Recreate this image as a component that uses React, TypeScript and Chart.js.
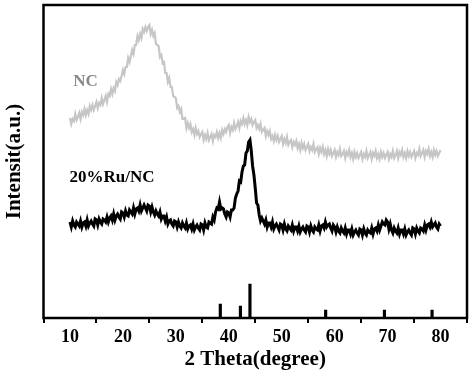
import React, { useEffect, useRef } from "react";
import { Chart, registerables } from "chart.js";

Chart.register(...registerables);

// 2θ sampling grid: 10° to 80° every 0.25°
const scanStart = 10;
const scanStep = 0.25;

// NC (grey) intensity, a.u.
const ncIntensity = [
  200, 194, 199, 197, 204, 198, 201, 205, 199, 206, 203, 209, 203, 208, 204, 212, 208, 213, 208, 212,
  216, 210, 215, 213, 220, 214, 218, 222, 216, 224, 222, 229, 224, 230, 227, 236, 233, 239, 237, 242,
  248, 244, 251, 251, 260, 256, 262, 268, 264, 273, 273, 282, 278, 284, 280, 289, 286, 291, 287, 291,
  293, 284, 288, 282, 285, 274, 273, 272, 261, 263, 255, 256, 245, 245, 236, 240, 231, 231, 222, 221,
  220, 210, 212, 206, 209, 199, 199, 200, 190, 195, 190, 194, 186, 189, 183, 190, 184, 187, 181, 184,
  186, 178, 183, 179, 185, 178, 181, 184, 177, 183, 181, 186, 180, 185, 180, 188, 184, 189, 186, 191,
  193, 185, 191, 188, 195, 189, 192, 196, 190, 197, 194, 200, 194, 198, 193, 201, 196, 199, 193, 196,
  198, 190, 193, 189, 194, 186, 188, 190, 182, 187, 183, 187, 179, 182, 177, 183, 178, 182, 176, 179,
  182, 174, 179, 175, 181, 173, 176, 178, 171, 176, 173, 177, 170, 174, 168, 175, 170, 174, 168, 171,
  174, 167, 171, 168, 174, 166, 169, 171, 164, 170, 166, 171, 164, 168, 162, 169, 164, 168, 162, 165,
  168, 161, 166, 163, 169, 162, 164, 167, 160, 166, 163, 168, 161, 165, 159, 166, 161, 165, 160, 163,
  166, 159, 164, 161, 167, 160, 163, 166, 159, 165, 162, 167, 160, 164, 159, 166, 161, 165, 160, 163,
  166, 159, 164, 161, 167, 160, 163, 167, 160, 166, 163, 168, 161, 165, 160, 167, 162, 166, 161, 164,
  167, 160, 165, 163, 169, 162, 165, 168, 161, 167, 164, 169, 162, 166, 161, 168, 163, 167, 162, 165,
  168,
];

// 20%Ru/NC (black) intensity, a.u.
const ruNcIntensity = [
  96, 91, 97, 93, 91, 96, 94, 92, 97, 91, 95, 96, 92, 98, 92, 95, 97, 94, 92, 99,
  98, 93, 99, 96, 94, 99, 98, 96, 101, 96, 100, 102, 98, 104, 98, 102, 104, 101, 99, 106,
  105, 101, 107, 103, 102, 108, 106, 104, 110, 104, 109, 110, 107, 113, 107, 110, 113, 110, 107, 113,
  112, 106, 111, 106, 103, 107, 104, 102, 106, 99, 102, 102, 97, 101, 94, 97, 98, 94, 92, 97,
  96, 91, 96, 92, 90, 95, 92, 90, 95, 89, 92, 93, 89, 94, 88, 91, 93, 90, 88, 94,
  93, 88, 95, 91, 90, 96, 95, 94, 101, 98, 106, 110, 109, 116, 109, 110, 109, 104, 101, 106,
  105, 101, 108, 108, 110, 120, 124, 127, 137, 136, 146, 152, 153, 165, 167, 176, 178, 167, 152, 143,
  130, 115, 113, 103, 97, 100, 97, 94, 98, 91, 95, 95, 91, 96, 89, 92, 94, 91, 88, 94,
  93, 88, 94, 89, 87, 92, 90, 88, 93, 87, 91, 91, 87, 92, 86, 89, 91, 88, 86, 92,
  91, 86, 92, 88, 86, 91, 89, 88, 93, 87, 92, 93, 90, 96, 91, 93, 94, 90, 87, 93,
  91, 86, 91, 87, 85, 90, 87, 85, 90, 84, 88, 88, 84, 89, 83, 86, 88, 85, 83, 89,
  88, 83, 89, 85, 83, 88, 86, 85, 90, 84, 89, 90, 87, 93, 88, 92, 96, 94, 93, 98,
  96, 89, 94, 88, 85, 90, 87, 85, 90, 84, 88, 88, 84, 89, 83, 86, 88, 85, 83, 90,
  89, 84, 90, 87, 85, 90, 89, 87, 93, 88, 93, 94, 91, 96, 91, 93, 95, 91, 89, 94,
  92,
];

// Ru reference pattern (stick lines)
const refPositions = [38.4, 42.2, 44.0, 58.3, 69.4, 78.4];
const refIntensity = [14, 12, 34, 8, 8, 8];

const xTickValues = [10, 20, 30, 40, 50, 60, 70, 80];
const xMin = 5;
const xMax = 85;
const yMin = 0;
const yMax = 313;

const seriesLabels = [
  { text: "NC", x: 10.6, y: 236, color: "#8a8a8a" },
  { text: "20%Ru/NC", x: 9.9, y: 140, color: "#000000" },
];

const SERIF = "'Liberation Serif', 'Times New Roman', serif";

export default function App() {
  const ref = useRef<HTMLCanvasElement | null>(null);

  useEffect(() => {
    if (!ref.current) return;
    const twoTheta = ncIntensity.map((_, i) => scanStart + i * scanStep);

    const framePlugin = {
      id: "frameAndLabels",
      afterDatasetsDraw(chart: any) {
        const { ctx, chartArea, scales } = chart;
        ctx.save();
        ctx.strokeStyle = "#000";
        ctx.lineWidth = 2.5;
        ctx.strokeRect(
          chartArea.left,
          chartArea.top,
          chartArea.right - chartArea.left,
          chartArea.bottom - chartArea.top
        );
        ctx.font = `bold 17px ${SERIF}`;
        ctx.textBaseline = "middle";
        ctx.textAlign = "left";
        for (const l of seriesLabels) {
          ctx.fillStyle = l.color;
          ctx.fillText(l.text, scales.x.getPixelForValue(l.x), scales.y.getPixelForValue(l.y));
        }
        ctx.restore();
      },
    };

    const chart = new Chart(ref.current, {
      type: "line",
      data: {
        datasets: [
          {
            label: "NC",
            data: twoTheta.map((x, i) => ({ x, y: ncIntensity[i] })),
            borderColor: "#c6c6c6",
            borderWidth: 2.2,
            pointRadius: 0,
            tension: 0,
          },
          {
            label: "20%Ru/NC",
            data: twoTheta.map((x, i) => ({ x, y: ruNcIntensity[i] })),
            borderColor: "#000000",
            borderWidth: 3,
            pointRadius: 0,
            tension: 0,
          },
          {
            type: "bar",
            label: "Ru ref",
            data: refPositions.map((x, i) => ({ x, y: refIntensity[i] })),
            backgroundColor: "#000000",
            barThickness: 2.5,
          } as any,
        ],
      },
      options: {
        animation: false,
        responsive: false,
        devicePixelRatio: 1,
        layout: { padding: { top: 5, right: 7, left: 0, bottom: 0 } },
        plugins: { legend: { display: false }, tooltip: { enabled: false } },
        scales: {
          x: {
            type: "linear",
            min: xMin,
            max: xMax,
            offset: false,
            afterBuildTicks: (s: any) => {
              s.ticks = xTickValues.map((v) => ({ value: v }));
            },
            afterFit: (s: any) => {
              s.height = 64;
            },
            grid: {
              display: true,
              drawOnChartArea: false,
              drawTicks: true,
              tickLength: 5,
              color: "#000",
              lineWidth: 2,
            },
            border: { display: false },
            ticks: {
              color: "#000",
              font: { family: SERIF, size: 18, weight: "bold" },
              padding: 4,
              maxRotation: 0,
            },
            title: {
              display: true,
              text: "2 Theta(degree)",
              color: "#000",
              font: { family: SERIF, size: 21, weight: "bold" },
              padding: { top: 0, bottom: 10 },
            },
          },
          y: {
            type: "linear",
            min: yMin,
            max: yMax,
            afterFit: (s: any) => {
              s.width = 43.5;
            },
            grid: { display: false },
            border: { display: false },
            ticks: { display: false },
            title: {
              display: true,
              text: "Intensit(a.u.)",
              color: "#000",
              font: { family: SERIF, size: 21, weight: "bold" },
              padding: { top: 2, bottom: 0 },
            },
          },
        },
      } as any,
      plugins: [framePlugin],
    });
    return () => chart.destroy();
  }, []);

  return (
    <div style={{ position: "fixed", left: 0, top: 0, width: 474, height: 382, background: "#fff" }}>
      <canvas ref={ref} width={474} height={382} style={{ display: "block" }} />
    </div>
  );
}
